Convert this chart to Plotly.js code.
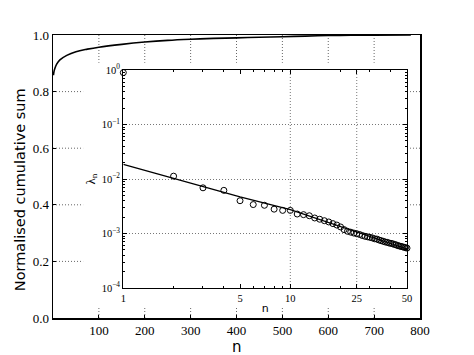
<!DOCTYPE html>
<html>
<head>
<meta charset="utf-8">
<script src="https://cdn.plot.ly/plotly-3.0.1.min.js"></script>
<style>html,body{margin:0;padding:0;background:#fff;}#chart{width:474px;height:355px;}</style>
</head>
<body>
<div id="chart"></div>
<script>
// Main curve: normalised cumulative sum vs n
const cumN = [1, 2, 4, 8, 15, 30, 50, 75, 100, 150, 200, 250, 300, 350, 400, 450, 500, 550, 600, 650, 700, 780];
const cumSum = [0.858, 0.870, 0.882, 0.897, 0.912, 0.928, 0.941, 0.950, 0.957, 0.967, 0.975, 0.981, 0.985, 0.988, 0.990, 0.992, 0.994, 0.996, 0.998, 0.999, 0.9995, 1.0];

// Inset: eigenvalues lambda_n vs n (log-log)
const lamN = [1,2,3,4,5,6,7,8,9,10,11,12,13,14,15,16,17,18,19,20,21,22,23,24,25,26,27,28,29,30,31,32,33,34,35,36,37,38,39,40,41,42,43,44,45,46,47,48,49,50];
const lamVal = [0.90, 0.0113, 0.0069, 0.0062, 0.0040, 0.0034, 0.0033, 0.0028, 0.00266, 0.00266,
  0.00228, 0.00222, 0.00212, 0.00193, 0.00183, 0.00172, 0.00163, 0.00152, 0.00143, 0.00132,
  0.00118, 0.00110, 0.00106, 0.00102, 0.00099, 0.00096, 0.00092, 0.00089, 0.00087, 0.00085,
  0.00083, 0.00080, 0.00079, 0.00076, 0.00074, 0.00072, 0.00070, 0.00069, 0.00067, 0.00066,
  0.00065, 0.00063, 0.00062, 0.00060, 0.00059, 0.00058, 0.00057, 0.00056, 0.00055, 0.00054];
// Fitted line in the inset
const fitN = [1, 5, 10, 25, 50];
const fitVal = [0.0185, 0.0047, 0.00274, 0.00108, 0.00052];

// Tick labels
const mainXTicks = [100, 200, 300, 400, 500, 600, 700, 800];
const mainYTicks = [0.0, 0.2, 0.4, 0.6, 0.8, 1.0];
const insetXTicks = [1, 5, 10, 25, 50];
const insetXLabels = ['1', '5', '10', '25', '50'];
const insetYTicks = [1e-4, 1e-3, 1e-2, 1e-1, 1];
const insetYLabels = ['10<sup>−4</sup>', '10<sup>−3</sup>', '10<sup>−2</sup>', '10<sup>−1</sup>', '10<sup>0</sup>'];
const insetXGrid = [10, 25];

const serif = 'Liberation Serif, DejaVu Serif, serif';
const sans = 'DejaVu Sans, Liberation Sans, sans-serif';

const minorX = [2,3,4,6,7,8,9,20,30,40];
const minorY = [];
[-4,-3,-2,-1].forEach(e => { for (let m = 2; m <= 9; m++) minorY.push(m * Math.pow(10, e)); });

const traces = [
  {x: cumN, y: cumSum, type: 'scatter', mode: 'lines', line: {color: '#000', width: 1.6, shape: 'spline'},
   xaxis: 'x', yaxis: 'y', hoverinfo: 'skip', showlegend: false},
  {x: fitN, y: fitVal, type: 'scatter', mode: 'lines', line: {color: '#000', width: 1.3},
   xaxis: 'x2', yaxis: 'y2', showlegend: false},
  {x: lamN, y: lamVal, type: 'scatter', mode: 'markers', cliponaxis: false,
   marker: {symbol: 'circle-open', size: 6, color: '#000', line: {width: 1, color: '#000'}},
   xaxis: 'x2', yaxis: 'y2', showlegend: false}
];

const dots = '1px,2px';
const grid = {color: '#666', width: 1, dash: dots};
const shapes = [];
mainXTicks.slice(0, 7).forEach(v => shapes.push({type: 'line', layer: 'below', xref: 'x', yref: 'paper', x0: v, x1: v, y0: 0, y1: 1, line: grid}));
mainYTicks.slice(1, 5).forEach(v => shapes.push({type: 'line', layer: 'below', xref: 'paper', yref: 'y', x0: 0, x1: 1, y0: v, y1: v, line: grid}));
// white panel behind the inset (covers the main grid)
shapes.push({type: 'rect', layer: 'below', xref: 'paper', yref: 'paper', x0: 0.082, x1: 0.973, y0: 0.036, y1: 0.902,
  fillcolor: '#fff', line: {width: 0}});
// inset vertical grid lines
insetXGrid.forEach(v => shapes.push({type: 'line', layer: 'below', xref: 'x2', yref: 'y2', x0: v, x1: v, y0: 1e-4, y1: 1, line: {color: '#777', width: 1, dash: dots}}));

const layout = {
  width: 474, height: 355,
  margin: {l: 53, r: 54, t: 35, b: 37},
  paper_bgcolor: '#fff', plot_bgcolor: 'rgba(0,0,0,0)',
  showlegend: false,
  font: {family: serif, color: '#000', size: 13},
  xaxis: {
    domain: [0, 1], range: [0, 800], tickvals: mainXTicks, ticktext: mainXTicks.map(String),
    showgrid: false, zeroline: false, showline: true, linecolor: '#000', linewidth: 1.5, mirror: true,
    ticks: 'inside', ticklen: 3, tickcolor: '#000',
    tickfont: {family: serif, size: 13}
  },
  yaxis: {
    domain: [0, 1], range: [0, 1.0], tickvals: mainYTicks, tickformat: '.1f',
    showgrid: false, zeroline: false, showline: true, linecolor: '#000', linewidth: 1.5, mirror: true,
    ticks: 'inside', ticklen: 3, tickcolor: '#000',
    tickfont: {family: serif, size: 13}
  },
  xaxis2: {
    domain: [0.1916, 0.9646], anchor: 'y2', type: 'log', range: [0, Math.log10(50)],
    tickmode: 'array', tickvals: insetXTicks, ticktext: insetXLabels,
    showgrid: false, zeroline: false, showline: true, linecolor: '#000', linewidth: 1.2, mirror: 'allticks',
    ticks: 'inside', ticklen: 4, tickcolor: '#000',
    minor: {tickmode: 'array', tickvals: minorX, ticks: 'inside', ticklen: 2, tickcolor: '#000', showgrid: false},
    tickfont: {family: serif, size: 10.5},
    title: {text: 'n', font: {family: sans, size: 11}, standoff: 1}
  },
  yaxis2: {
    domain: [0.106, 0.876], anchor: 'x2', type: 'log', range: [-4, 0],
    tickmode: 'array', tickvals: insetYTicks, ticktext: insetYLabels,
    showgrid: true, gridcolor: '#777', griddash: dots, gridwidth: 1,
    zeroline: false, showline: true, linecolor: '#000', linewidth: 1.2, mirror: 'allticks',
    ticks: 'inside', ticklen: 4, tickcolor: '#000',
    minor: {tickmode: 'array', tickvals: minorY, ticks: 'inside', ticklen: 2, tickcolor: '#000', showgrid: false},
    tickfont: {family: serif, size: 10.5},
    title: {text: 'λ<sub>n</sub>', font: {family: serif, size: 13}, standoff: 3}
  },
  annotations: [
    {text: 'Normalised cumulative sum', xref: 'paper', yref: 'paper', x: -0.09, y: 0.455,
     textangle: -90, showarrow: false, font: {family: sans, size: 14.5, color: '#000'}, xanchor: 'center', yanchor: 'middle'},
    {text: 'n', xref: 'paper', yref: 'paper', x: 0.5, y: -0.066, borderpad: 0,
     showarrow: false, font: {family: sans, size: 15, color: '#000'}, xanchor: 'center', yanchor: 'top'}
  ],
  shapes: shapes
};

Plotly.newPlot('chart', traces, layout, {staticPlot: true, displayModeBar: false});
</script>
</body>
</html>
